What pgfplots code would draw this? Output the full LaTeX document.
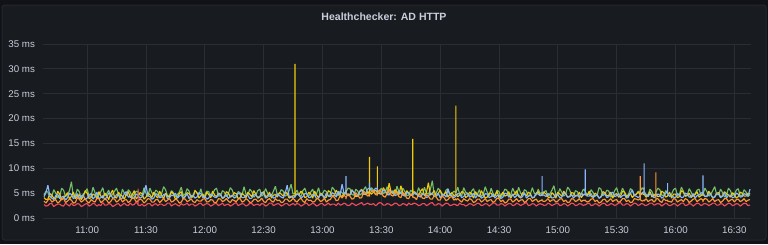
\documentclass[border=0pt]{standalone}
\usepackage{fontspec}
\setmainfont{Liberation Sans}
\usepackage{pgfplots}
\usepackage{pgfplotstable}
\pgfplotsset{compat=1.18}
\definecolor{bgout}{HTML}{111217}
\definecolor{panel}{HTML}{181B1F}
\definecolor{pborder}{HTML}{24272E}
\definecolor{gridc}{HTML}{2A2D33}
\definecolor{txt}{HTML}{CCCCDC}
\definecolor{sgreen}{HTML}{73BF69}
\definecolor{syellow}{HTML}{F2CC0C}
\definecolor{sblue}{HTML}{8AB8FF}
\definecolor{sorange}{HTML}{FF9830}
\definecolor{sred}{HTML}{F2495C}
\pgfplotstableread{
t g y b o r
638 4.6 4.1 4.3 3.4 2.7
639 5.4 3.7 5.1 3.0 2.4
640 5.2 3.8 6.6 3.6 2.5
641 4.2 4.9 4.4 3.9 2.9
642 4.4 4.6 4.0 3.2 2.9
643 5.7 4.0 3.7 3.5 2.3
644 5.0 3.9 4.5 3.7 2.6
645 4.1 5.4 4.8 3.0 2.8
646 4.3 4.8 3.9 3.3 2.8
647 6.0 3.6 4.2 4.0 2.5
648 5.6 4.2 4.4 3.9 2.4
649 4.3 4.5 3.6 3.1 3.0
650 4.7 5.1 4.1 3.4 2.7
651 5.5 3.8 5.0 3.8 2.4
652 7.3 4.4 4.7 3.6 3.0
653 4.2 5.2 3.9 3.0 2.5
654 4.5 3.9 4.2 3.1 2.6
655 5.8 4.4 4.9 4.1 2.9
656 5.3 4.7 3.8 3.8 2.8
657 4.0 3.7 4.4 3.2 2.3
658 4.8 4.3 4.6 3.5 2.5
659 5.2 5.5 3.7 3.9 2.8
660 5.9 5.0 4.0 3.3 2.9
661 4.3 3.9 4.6 3.0 2.4
662 4.4 4.1 4.9 3.7 2.6
663 6.2 4.8 3.8 3.4 3.0
664 5.1 4.6 4.3 3.2 2.8
665 4.2 3.8 5.2 4.0 2.4
666 4.6 5.3 3.9 3.9 2.7
667 5.3 4.4 4.1 3.1 2.5
668 6.1 4.0 4.5 3.4 3.1
669 4.4 5.0 3.7 3.8 2.6
670 4.9 4.5 4.2 3.6 2.6
671 5.6 3.7 5.0 3.0 2.9
672 4.3 4.9 4.8 3.3 2.8
673 4.8 5.6 4.0 3.9 2.3
674 5.4 4.2 4.1 3.8 2.5
675 6.0 4.0 4.7 3.2 2.8
676 4.7 5.2 4.6 3.5 2.9
677 4.1 4.6 3.8 4.0 2.4
678 5.8 4.4 4.0 3.2 2.7
679 5.0 3.8 4.9 3.6 3.0
680 4.5 4.8 5.3 3.7 2.6
681 5.7 5.3 4.2 3.1 2.5
682 5.2 4.1 4.4 3.4 3.0
683 4.2 4.7 3.9 4.1 2.6
684 4.8 5.5 4.1 3.9 2.7
685 5.4 3.9 4.8 3.3 3.2
686 5.2 4.2 4.6 3.4 2.7
686 5.5 4.3 4.7 3.3 5.9
686 5.0 4.6 4.4 3.5 2.6
687 4.6 5.1 4.0 3.8 2.5
688 4.4 4.9 4.2 3.6 2.8
689 6.1 3.8 5.1 3.0 2.4
690 5.0 4.2 6.6 3.4 2.6
691 4.3 5.0 4.5 3.9 2.9
692 6.0 4.7 4.3 3.8 2.9
693 5.1 4.1 3.8 3.2 2.4
694 4.6 5.2 4.0 3.2 2.7
695 5.6 4.5 4.9 3.7 2.9
696 5.3 4.0 4.6 3.7 2.5
697 4.2 5.4 4.1 3.1 2.8
698 4.9 4.6 4.2 3.5 2.8
699 6.3 3.9 4.7 4.0 2.5
700 5.7 5.0 4.8 3.3 2.6
701 4.4 4.4 3.9 3.6 3.0
702 4.5 4.3 4.1 3.9 3.0
703 5.5 5.3 4.6 3.2 2.4
704 5.1 4.8 4.5 3.4 2.7
705 4.3 3.8 5.0 3.8 2.9
706 4.7 4.1 4.0 3.6 2.6
707 5.2 4.9 4.4 3.0 2.4
708 6.2 5.3 4.7 3.2 2.9
709 4.5 4.0 3.8 3.9 2.6
710 4.8 4.4 4.3 3.8 2.7
711 5.9 5.1 4.9 3.3 3.0
712 5.4 4.9 3.9 3.5 2.5
713 4.1 4.3 4.5 3.9 2.8
714 4.4 4.2 4.6 3.3 2.8
715 5.6 5.5 4.0 3.1 2.4
716 5.0 5.1 4.2 3.7 2.6
717 4.6 4.0 5.1 3.4 2.9
718 5.9 4.5 4.9 3.4 3.0
719 4.3 4.8 4.1 3.8 2.5
720 4.6 4.0 4.4 3.9 2.7
721 5.4 5.2 3.8 3.2 2.9
722 5.3 4.7 4.0 3.3 2.8
723 4.2 4.1 4.8 3.7 2.4
724 4.8 5.4 4.5 3.6 2.6
725 5.7 4.6 4.2 3.0 2.9
726 6.0 4.3 4.1 3.2 2.9
727 4.4 5.0 4.9 3.9 2.5
728 4.5 4.8 4.7 3.8 2.7
729 5.5 3.9 4.0 3.3 3.0
730 5.2 4.2 4.3 3.5 2.5
731 4.3 5.3 4.7 3.9 2.7
732 4.9 5.0 3.9 3.4 2.8
733 6.1 4.2 4.4 3.1 2.4
734 5.6 4.4 4.6 3.7 2.6
735 4.5 5.1 4.0 3.5 2.9
736 4.4 4.9 4.2 3.3 3.1
737 5.3 3.9 5.0 3.8 2.5
738 5.1 4.1 4.8 3.9 2.7
739 4.6 5.0 4.1 3.2 2.9
740 6.3 4.6 4.1 3.4 2.8
741 4.8 4.1 4.6 3.9 2.4
742 4.7 5.2 4.5 3.6 2.6
743 5.8 4.7 3.9 3.1 3.0
744 5.3 4.3 4.0 3.2 2.9
745 4.2 5.5 4.7 3.7 2.5
746 4.6 4.8 4.6 3.8 2.7
747 5.5 4.0 4.2 3.3 2.8
748 5.8 4.2 4.3 3.5 2.5
749 4.4 5.0 5.1 4.0 2.9
750 4.8 5.3 4.9 3.3 2.8
751 5.9 4.3 4.0 3.1 2.4
752 5.0 4.5 4.2 3.7 2.6
753 4.3 5.2 4.8 3.9 3.0
754 4.5 4.0 4.7 3.4 3.0
755 5.4 4.6 4.0 3.2 2.5
756 6.4 4.7 4.1 3.9 2.7
757 4.6 4.2 4.9 3.5 2.9
758 4.9 5.1 4.5 3.6 2.8
759 5.7 4.8 4.2 3.1 2.4
760 5.4 4.4 4.0 3.2 2.6
761 4.4 5.3 5.0 3.8 2.9
762 4.7 4.9 6.6 3.8 2.9
763 5.5 4.0 4.3 3.3 2.5
764 6.8 4.2 4.4 3.5 2.7
765 4.8 4.5 4.0 3.9 2.9
766 5.0 4.3 4.3 3.6 2.7
766 5.1 31.0 4.1 3.3 2.5
766 4.9 4.4 4.4 3.5 2.6
767 5.6 4.9 4.8 3.2 2.9
768 4.6 4.6 4.7 3.7 2.8
769 4.3 5.4 4.0 4.0 2.4
770 5.5 5.0 4.3 3.4 2.6
771 6.0 4.1 4.9 3.1 2.9
772 4.8 4.3 4.9 3.9 3.0
773 4.4 5.2 4.1 3.5 2.5
774 5.2 4.8 4.2 3.6 2.7
775 5.8 4.0 4.7 3.2 3.0
776 4.4 5.4 4.6 3.3 2.8
777 4.9 4.6 3.9 3.9 2.4
778 6.1 4.1 4.0 3.8 2.6
779 4.5 5.0 4.8 3.3 2.9
780 4.9 4.7 4.5 3.5 2.9
781 5.6 4.0 4.1 4.0 2.5
782 5.3 4.2 5.0 3.2 2.7
783 4.4 5.5 4.4 3.6 3.0
784 4.7 5.2 4.3 3.7 2.6
785 6.2 4.4 5.1 4.4 2.8
786 5.7 4.5 4.8 4.2 2.8
787 4.8 5.6 4.2 3.5 2.5
788 4.5 4.9 5.4 3.6 3.0
789 5.4 4.6 4.6 4.5 2.6
790 5.1 4.3 6.8 4.0 2.7
791 4.6 5.0 4.9 4.6 3.0
792 5.0 5.2 5.0 4.2 2.8
792 4.8 5.6 8.4 3.8 2.9
792 5.2 5.0 4.8 4.1 2.7
793 6.0 4.5 4.6 4.9 2.5
794 5.9 4.6 4.7 4.4 2.6
795 4.7 5.7 5.5 3.8 3.0
796 4.6 5.1 5.2 3.9 2.8
797 5.8 4.3 4.6 5.1 2.5
798 5.4 4.4 4.5 4.6 2.7
799 4.6 5.4 5.3 4.0 2.9
800 4.9 5.8 5.6 4.1 3.1
801 5.7 4.9 4.7 5.4 2.6
802 6.3 4.7 4.9 5.0 2.8
803 4.9 5.3 5.8 4.4 3.0
804 5.1 5.0 6.0 4.8 2.8
804 5.0 12.3 7.0 4.3 2.6
804 5.3 5.1 6.1 4.9 2.8
805 6.1 4.8 5.6 5.3 2.7
806 5.6 5.2 5.3 5.6 2.9
807 4.8 5.6 6.0 4.7 2.5
808 5.0 5.1 5.8 4.6 2.7
808 4.7 10.4 6.3 4.5 2.7
808 5.2 5.0 5.4 4.9 2.8
809 5.4 4.9 5.2 5.7 3.1
810 6.0 4.8 4.8 5.2 3.0
811 4.9 6.1 5.6 4.4 2.6
812 5.2 5.5 5.4 4.2 2.6
813 6.3 4.6 4.9 5.0 2.9
814 4.8 7.0 4.6 5.8 2.8
815 5.1 5.2 5.4 4.6 2.5
816 5.5 4.9 5.1 4.4 2.7
817 4.7 5.7 4.5 5.3 3.0
818 6.4 5.3 4.7 5.0 2.9
819 5.2 4.7 5.5 4.3 2.5
820 4.9 6.5 5.0 4.1 2.6
821 6.0 5.0 4.6 5.1 2.9
822 5.3 4.6 4.4 4.7 2.8
823 4.5 5.5 5.2 4.0 2.5
824 4.6 5.0 4.9 3.9 3.0
825 5.6 4.7 4.5 4.8 2.7
826 5.2 4.9 4.7 4.4 2.8
826 5.8 15.9 4.3 4.5 2.7
826 5.4 5.0 4.6 4.2 2.9
827 4.9 5.3 5.1 4.1 3.0
828 4.7 4.8 4.8 3.7 2.8
829 6.1 4.4 4.4 4.9 2.5
830 5.2 5.4 4.2 4.6 2.6
831 4.6 5.9 4.9 4.0 2.9
832 6.2 4.5 4.7 3.9 2.9
833 5.0 5.1 4.1 4.7 2.5
834 4.8 7.1 4.3 4.4 2.7
835 5.7 4.6 5.0 3.8 3.0
836 7.5 5.0 4.9 3.8 3.1
837 4.6 5.5 4.3 4.5 2.6
838 5.0 4.4 4.4 4.2 2.6
839 6.0 4.9 5.0 3.6 2.9
840 5.5 5.6 4.1 3.6 2.8
841 4.4 4.8 4.6 4.4 2.4
842 4.6 4.7 4.7 4.1 2.7
843 5.6 5.3 4.2 3.5 3.0
844 5.9 4.2 5.8 3.7 2.9
845 4.5 4.8 4.6 4.2 2.5
846 4.9 5.1 4.5 4.3 2.6
847 5.4 4.5 4.1 3.6 2.8
848 5.1 4.7 4.4 3.9 2.7
848 5.3 22.6 4.2 3.8 2.8
848 5.0 4.8 4.5 3.6 2.6
849 6.2 4.3 4.9 3.9 2.5
850 4.7 4.6 4.8 3.5 3.0
851 4.5 5.3 4.1 3.2 2.7
852 6.1 5.2 4.3 3.9 2.7
853 5.2 4.1 4.8 3.6 2.4
854 5.0 4.4 4.9 3.4 2.6
855 4.4 5.2 4.2 3.9 2.9
856 5.4 4.9 4.4 3.7 2.8
857 5.9 4.0 5.0 3.1 2.5
858 4.6 5.3 4.0 3.3 2.7
859 4.8 4.7 4.6 3.8 3.0
860 5.7 4.3 4.6 3.8 2.9
861 4.3 5.5 4.0 3.2 2.5
862 4.8 4.8 4.2 3.5 2.6
863 6.3 4.0 4.9 3.9 2.9
864 5.2 4.2 4.8 3.3 2.8
865 4.5 5.0 4.1 3.6 2.4
866 6.0 5.0 4.3 3.7 2.7
867 4.9 4.3 4.8 3.1 3.0
868 4.5 4.5 4.0 3.4 3.0
869 5.6 5.4 4.5 4.0 2.6
870 5.3 4.1 4.6 3.9 2.6
871 4.2 4.6 3.9 3.3 2.9
872 4.9 5.2 4.2 3.6 2.8
873 5.8 4.4 5.0 3.0 2.4
874 5.6 4.6 4.9 3.2 2.7
875 4.4 5.3 4.2 3.8 2.9
876 4.7 4.0 4.4 3.8 2.9
877 6.0 4.7 4.8 3.2 2.5
878 5.1 4.8 4.1 3.5 2.6
879 4.5 5.5 4.5 3.9 3.0
880 6.2 4.3 4.7 3.3 2.8
881 5.0 4.1 4.0 3.6 2.5
882 4.6 5.1 4.3 3.7 2.7
883 5.7 4.8 5.1 3.1 2.9
884 5.4 4.5 4.0 3.4 3.1
885 4.3 5.2 4.4 3.9 2.5
886 4.8 4.9 4.6 3.9 2.6
887 6.1 4.0 4.1 3.3 2.9
888 5.0 4.2 4.2 3.6 2.8
889 4.6 5.0 5.0 3.8 2.4
890 5.8 5.3 4.8 3.2 2.7
891 4.9 4.5 4.5 3.5 2.9
892 5.1 4.7 4.6 3.6 2.7
892 4.7 4.4 8.4 3.8 2.9
892 5.0 4.6 4.7 3.5 2.8
893 5.3 5.2 4.6 3.3 2.5
894 5.5 4.8 4.3 3.5 2.6
895 4.4 4.2 4.9 3.9 3.0
896 4.9 4.1 4.6 3.3 2.8
897 5.6 5.1 4.0 3.6 2.5
898 6.5 4.7 4.1 3.7 2.7
899 4.7 4.0 4.8 3.2 2.9
900 4.6 5.2 4.7 3.4 3.0
901 5.9 4.8 4.1 3.8 2.5
902 5.2 4.4 4.2 3.9 2.6
903 4.4 5.4 5.0 3.3 2.9
904 4.8 4.9 4.8 3.6 2.8
905 6.2 4.2 4.2 3.1 2.4
906 5.7 4.3 4.3 3.2 2.7
907 4.6 5.1 4.7 3.9 3.0
908 4.5 5.0 4.0 3.8 2.9
909 5.5 4.4 4.5 3.3 2.5
910 5.3 4.5 4.6 3.5 2.6
911 4.3 5.2 4.1 3.9 2.9
912 4.9 4.1 5.0 3.3 2.8
913 5.8 4.7 4.6 3.6 2.5
914 5.4 4.8 4.8 3.5 2.7
914 6.0 4.8 9.8 3.7 2.7
914 5.2 4.9 4.7 3.5 2.6
915 4.8 4.5 4.4 3.2 2.9
916 4.7 5.4 4.4 3.4 3.0
917 5.7 4.3 4.9 3.8 2.5
918 5.1 4.2 4.1 3.9 2.6
919 4.4 5.0 4.5 3.3 2.9
920 4.6 4.7 4.7 3.6 2.8
921 6.1 4.0 4.0 3.0 2.4
922 5.8 4.3 4.2 3.2 2.7
923 4.5 5.3 4.9 3.7 3.0
924 4.8 5.1 4.8 3.8 2.9
925 5.6 4.4 4.1 3.2 2.5
926 5.4 4.6 4.3 3.5 2.6
927 4.2 5.2 4.9 3.9 2.9
928 4.5 4.0 5.2 3.3 2.8
929 5.5 4.7 4.3 3.6 2.5
930 6.1 4.9 4.5 3.7 2.7
931 4.7 4.2 4.8 3.1 3.0
932 4.9 4.4 4.1 3.4 3.1
933 6.0 5.4 4.5 3.9 2.6
934 5.2 5.2 4.7 3.9 2.6
935 4.4 4.3 4.0 3.3 2.9
936 4.7 4.5 4.2 3.6 2.8
937 5.9 5.0 5.0 3.1 2.4
938 5.6 4.1 5.6 3.2 2.7
939 4.5 4.6 4.5 3.9 3.0
940 4.8 4.8 4.4 3.8 2.9
941 5.4 5.2 4.1 3.6 2.5
942 5.1 4.7 4.4 3.9 2.7
942 5.0 4.3 4.8 8.4 2.6
942 5.3 4.6 4.6 3.7 2.8
943 6.1 4.9 5.1 3.4 2.9
944 5.6 4.7 5.3 3.6 2.7
944 6.2 5.0 11.0 3.5 2.8
944 5.4 4.8 4.9 3.4 2.6
945 4.7 4.2 4.6 3.9 2.5
946 4.6 4.5 4.3 3.3 2.7
947 5.8 5.3 4.9 3.6 3.0
948 5.3 4.2 4.7 3.7 3.0
949 4.4 4.7 4.1 3.2 2.6
950 4.8 4.6 4.3 3.6 2.7
950 4.9 4.9 4.2 9.2 2.6
950 5.2 4.8 4.5 3.8 2.8
951 6.0 4.3 4.8 3.9 2.9
952 5.7 4.4 4.6 3.4 2.8
953 4.6 5.4 4.0 3.1 2.4
954 4.5 5.1 4.3 3.9 2.7
955 5.5 4.2 5.0 3.5 3.0
956 5.2 4.4 5.4 3.6 2.8
956 5.1 4.6 7.0 3.6 2.9
956 4.9 4.5 5.0 3.4 2.7
957 4.3 5.2 4.4 3.3 2.5
958 4.8 4.0 4.5 3.2 2.6
959 5.7 4.8 4.2 3.9 2.9
960 6.0 4.8 4.1 3.8 2.8
961 4.5 4.1 4.9 3.2 2.4
962 4.7 4.3 4.7 3.5 2.7
963 6.2 5.5 4.1 3.7 3.0
964 5.4 5.2 4.2 3.3 3.0
965 4.4 4.4 5.0 3.9 2.5
966 4.6 4.5 4.8 3.7 2.6
967 5.9 5.0 4.2 3.1 2.9
968 5.2 4.1 4.3 3.4 2.8
969 4.3 4.6 4.9 3.8 2.4
970 4.9 4.7 4.0 3.9 2.7
971 5.6 5.3 4.5 3.3 3.0
972 5.8 4.2 4.6 3.6 2.9
973 4.6 4.5 5.0 3.9 2.5
974 4.9 4.7 5.2 3.6 2.7
974 4.5 5.0 8.6 3.2 2.6
974 4.8 4.8 5.0 3.5 2.8
975 6.0 4.3 4.4 3.9 2.9
976 5.3 4.4 4.3 3.8 2.8
977 4.4 5.4 4.9 3.2 2.5
978 4.8 4.8 4.7 3.5 2.7
979 5.5 4.0 4.1 3.9 3.0
980 6.3 4.3 4.2 3.3 3.0
981 4.7 5.0 4.9 3.6 2.6
982 4.7 5.1 4.8 3.7 2.6
983 5.8 4.2 4.1 3.1 2.9
984 5.1 4.5 4.4 3.4 2.8
985 4.2 5.3 5.1 3.9 2.4
986 4.6 4.9 4.0 3.9 2.7
987 6.0 4.6 4.6 3.3 3.0
988 5.5 4.2 4.6 3.6 2.9
989 4.5 5.1 4.1 3.8 2.5
990 4.8 4.7 4.2 3.2 2.6
991 5.6 4.0 5.0 3.7 2.9
992 5.9 4.3 4.8 3.8 2.8
993 4.4 5.2 4.2 3.3 2.4
994 4.6 5.0 4.3 3.5 2.7
995 5.7 4.4 4.9 3.9 3.0
996 5.2 4.4 4.7 3.3 2.9
997 4.3 5.0 4.4 3.6 2.5
998 4.7 4.8 5.8 3.7 2.6
}\data
\begin{document}
\begin{tikzpicture}
\useasboundingbox (0,0) rectangle (576pt,183pt);
\fill[bgout] (0,0) rectangle (576pt,183pt);
\filldraw[fill=panel, draw=pborder, line width=0.75pt, rounded corners=2pt] (1.5pt,3pt) rectangle (574.5pt,179.25pt);
\node[text=txt, font=\fontsize{7.9}{9.5}\selectfont\bfseries] at (288pt,170.25pt) {Healthchecker: AD HTTP};
\begin{axis}[
  at={(32.25pt,19.5pt)}, anchor=south west,
  width=531pt, height=130.5pt, scale only axis,
  xmin=637.5, xmax=998.5, ymin=0, ymax=35,
  axis line style={draw=none},
  major tick length=0pt,
  grid=major,
  major grid style={draw=gridc, line width=0.6pt},
  ytick={0,5,...,35},
  yticklabel={\pgfmathprintnumber{\tick} ms},
  xtick={660,690,...,990},
  xticklabels={11:00,11:30,12:00,12:30,13:00,13:30,14:00,14:30,15:00,15:30,16:00,16:30},
  /pgf/number format/assume math mode=true,
  ticklabel style={text=txt, font=\fontsize{7.3}{9}\selectfont},
  yticklabel style={xshift=-2.5pt},
  xticklabel style={yshift=-3pt},
  every axis plot/.append style={line width=0.85pt, line join=bevel},
]
\addplot[sgreen, no marks] table[x=t, y=g] {\data};
\addplot[syellow, no marks] table[x=t, y=y] {\data};
\addplot[sblue, no marks] table[x=t, y=b] {\data};
\addplot[sorange, no marks] table[x=t, y=o] {\data};
\addplot[sred, no marks] table[x=t, y=r] {\data};
\end{axis}
\end{tikzpicture}
\end{document}
